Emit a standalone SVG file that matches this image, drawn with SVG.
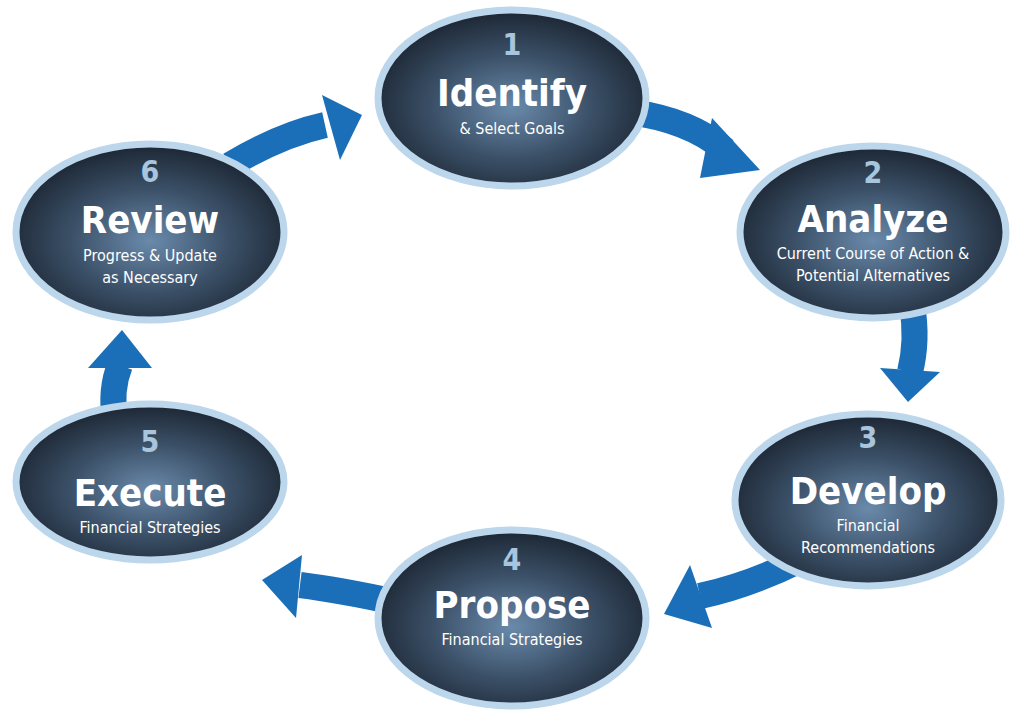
<svg xmlns="http://www.w3.org/2000/svg" width="1024" height="711" viewBox="0 0 1024 711">
<defs>
<radialGradient id="g" cx="50%" cy="55%" r="55%">
<stop offset="0" stop-color="#6a8aab"/>
<stop offset="0.55" stop-color="#3a4f66"/>
<stop offset="1" stop-color="#1c2633"/>
</radialGradient>
<style>
.n{fill:url(#g);stroke:#bcd6ec;stroke-width:7}
.num{font-family:"DejaVu Sans Condensed","DejaVu Sans",sans-serif;font-weight:bold;font-size:30px;fill:#a9c4dd;text-anchor:middle}
.t{font-family:"DejaVu Sans Condensed","DejaVu Sans",sans-serif;font-weight:bold;font-size:38px;fill:#fff;text-anchor:middle}
.s{font-family:"DejaVu Sans Condensed","DejaVu Sans",sans-serif;font-size:16px;fill:#fff;text-anchor:middle}
.a{fill:none;stroke:#1a6fb8;stroke-width:26}
.h{fill:#1a6fb8}
</style>
</defs>
<rect width="1024" height="711" fill="#fff"/>
<g id="connectors">
<path class="a" d="M630,112 Q690,120 725,150"/><polygon class="h" points="712,118 760,170 700,178"/>
<path class="a" d="M912,305 Q918,340 910,372"/><polygon class="h" points="880,368 940,372 908,402"/>
<path class="a" d="M800,560 Q750,585 700,596"/><polygon class="h" points="690,565 712,628 664,614"/>
<path class="a" d="M395,602 Q340,590 300,585"/><polygon class="h" points="302,555 296,618 262,580"/>
<path class="a" d="M115,420 Q110,390 120,365"/><polygon class="h" points="88,368 152,368 122,330"/>
<path class="a" d="M230,165 Q280,135 325,125"/><polygon class="h" points="322,95 340,160 362,115"/>
</g>
<g id="n1"><ellipse class="n" cx="512" cy="98" rx="134" ry="88"/><text class="num" x="512" y="55">1</text><text class="t" x="512" y="106">Identify</text><text class="s" x="512" y="134">&amp; Select Goals</text></g>
<g id="n2"><ellipse class="n" cx="873" cy="232" rx="133" ry="86"/><text class="num" x="873" y="183">2</text><text class="t" x="873" y="232">Analyze</text><text class="s" x="873" y="259">Current Course of Action &amp;</text><text class="s" x="873" y="281">Potential Alternatives</text></g>
<g id="n3"><ellipse class="n" cx="868" cy="500" rx="133" ry="86"/><text class="num" x="868" y="448">3</text><text class="t" x="868" y="504">Develop</text><text class="s" x="868" y="531">Financial</text><text class="s" x="868" y="553">Recommendations</text></g>
<g id="n4"><ellipse class="n" cx="512" cy="618" rx="134" ry="88"/><text class="num" x="512" y="570">4</text><text class="t" x="512" y="618">Propose</text><text class="s" x="512" y="645">Financial Strategies</text></g>
<g id="n5"><ellipse class="n" cx="150" cy="482" rx="134" ry="78"/><text class="num" x="150" y="452">5</text><text class="t" x="150" y="506">Execute</text><text class="s" x="150" y="533">Financial Strategies</text></g>
<g id="n6"><ellipse class="n" cx="150" cy="232" rx="134" ry="88"/><text class="num" x="150" y="182">6</text><text class="t" x="150" y="233">Review</text><text class="s" x="150" y="261">Progress &amp; Update</text><text class="s" x="150" y="283">as Necessary</text></g>
</svg>
